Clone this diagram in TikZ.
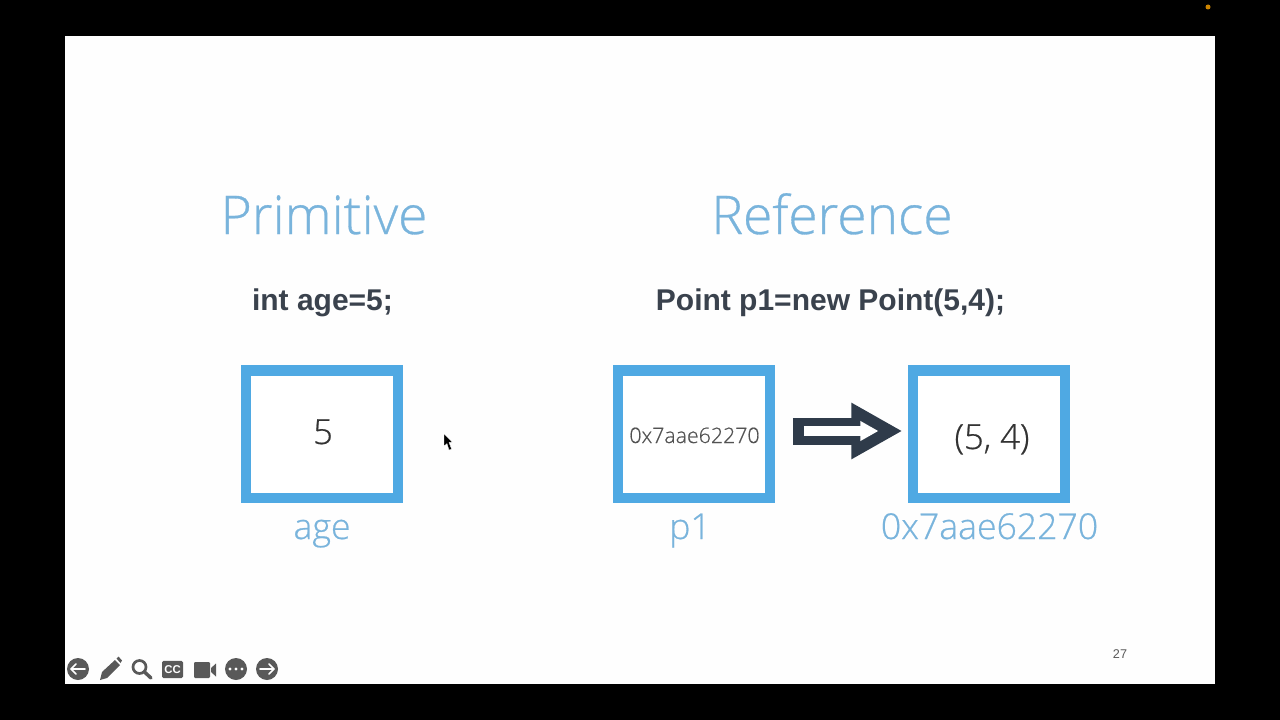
\documentclass[tikz,border=0pt]{standalone}
\usepackage{fontspec}
\setmainfont{Liberation Sans}
\newfontfamily\thinf[Ligatures=NoCommon,FakeBold=0.6]{Open Sans Light}
\newfontfamily\codef{Liberation Sans}
\usetikzlibrary{arrows.meta,calc}
\definecolor{boxblue}{HTML}{4FA9E3}
\definecolor{titleblue}{HTML}{79B4DC}
\definecolor{arrowdark}{HTML}{2F3B4A}
\definecolor{codegrey}{HTML}{3A424D}
\definecolor{inner}{HTML}{333333}
\definecolor{icon}{HTML}{595959}
\definecolor{slide}{HTML}{FEFEFE}
\tikzset{
 x=0.75pt,y=-0.75pt,
 memorybox/.style={draw=boxblue,line width=7.9pt,fill=white,minimum width=113.85pt,minimum height=95.85pt,inner sep=0pt,outer sep=0pt,anchor=center},
 titletxt/.style={text=titleblue,font=\thinf\fontsize{40pt}{40pt}\selectfont,inner sep=0pt,anchor=base},
 codetxt/.style={text=codegrey,font=\codef\bfseries\fontsize{22.5pt}{23pt}\selectfont,inner sep=0pt,anchor=base},
 labeltxt/.style={text=titleblue,font=\thinf\fontsize{26.7pt}{27pt}\selectfont,inner sep=0pt,anchor=base},
 valuetxt/.style={text=inner,font=\thinf\fontsize{26pt}{26pt}\selectfont,inner sep=0pt,anchor=base},
 smalltxt/.style={text=inner!85,font=\thinf\fontsize{16pt}{16pt}\selectfont,inner sep=0pt,anchor=base},
 roundbtn/.style={circle,fill=icon,minimum size=16.5pt,inner sep=0pt},
 btnline/.style={white,line width=1.2pt,line cap=round,line join=round},
 iconline/.style={icon,line width=2pt,line cap=round}
}
\begin{document}
\begin{tikzpicture}
\useasboundingbox (0,0) rectangle (1280,720);
\fill[black] (0,0) rectangle (1280,720);
\fill[slide] (65,36) rectangle (1215,684);
\fill[orange!70!yellow!80!black] (1208,7) circle (2.5);
% titles
\node[titletxt] (ttlprim) at (324,234) {Primitive};
\node[titletxt] (ttlref) at (832,234) {Reference};
\node[codetxt] (codeprim) at (322.5,310) {int age=5;};
\node[codetxt] (coderef) at (830.5,310) {Point p1=new Point(5,4);};
% boxes
\node[memorybox] (agebox) at (322,434.2) {};
\node[memorybox] (pbox) at (694,434.2) {};
\node[memorybox] (objbox) at (989,434.2) {};
\node[valuetxt] (ageval) at (323,444) {5};
\node[smalltxt] (addr) at (694.5,443) {0x7aae62270};
\node[valuetxt] (objval) at (992,449) {(5, 4)};
\node[labeltxt] (agelbl) at (322,539) {age};
\node[labeltxt] (plbl) at (690,539) {p1};
\node[labeltxt] (addrlbl) at (989.5,539) {0x7aae62270};
% arrow
\draw[arrowdark,line width=20.25pt,-{Triangle[length=38.25pt,width=39.5pt]},shorten <=17.25pt,shorten >=8pt]
  ([yshift=2.4pt]pbox.east) -- ([yshift=2.4pt]objbox.west);
\draw[white,line width=8pt,-{Triangle[length=13.5pt,width=14pt]},shorten <=25.5pt,shorten >=26pt]
  ([yshift=2.4pt]pbox.east) -- ([yshift=2.4pt]objbox.west);
% page number
\node[text=icon,font=\codef\fontsize{9.5pt}{10pt}\selectfont,inner sep=0pt] (pgnum) at (1120,654) {27};
% cursor
\fill[black,draw=white,line width=0.2pt] (444,434) -- (444,446) -- (447,443.5) -- (449,450) -- (451.5,449) -- (449,442.5) -- (452,442) -- cycle;
% toolbar
\node[roundbtn] (backbtn) at (78,669) {};
\draw[btnline] (85,669) -- (71,669) (76,664) -- (71,669) -- (76,674);
\fill[icon] (100,680) -- (102,672) -- (115,660) -- (120,665) -- (107,678) -- cycle;
\fill[icon] (116.5,658.5) -- (118.5,656.5) -- (122,660.5) -- (120.5,663) -- cycle;
\draw[iconline] (139.5,667) circle (6.5);
\draw[iconline,line width=2.6pt] (144.5,672) -- (151,678);
\node[fill=icon,rounded corners=1.2pt,minimum width=15.75pt,minimum height=13pt,inner sep=0pt,text=white,font=\codef\bfseries\fontsize{8.5pt}{9pt}\selectfont] (ccbtn) at (172.5,669.5) {CC};
\fill[icon,rounded corners=0.8pt] (194,662) rectangle (210,678);
\fill[icon] (211,668) -- (216,663.5) -- (216,676.5) -- (211,672) -- cycle;
\node[roundbtn] (morebtn) at (236,669) {};
\fill[white] (230,669) circle (1.6) (236,669) circle (1.6) (242,669) circle (1.6);
\node[roundbtn] (nextbtn) at (267,669) {};
\draw[btnline] (260,669) -- (274,669) (269,664) -- (274,669) -- (269,674);
\end{tikzpicture}
\end{document}
